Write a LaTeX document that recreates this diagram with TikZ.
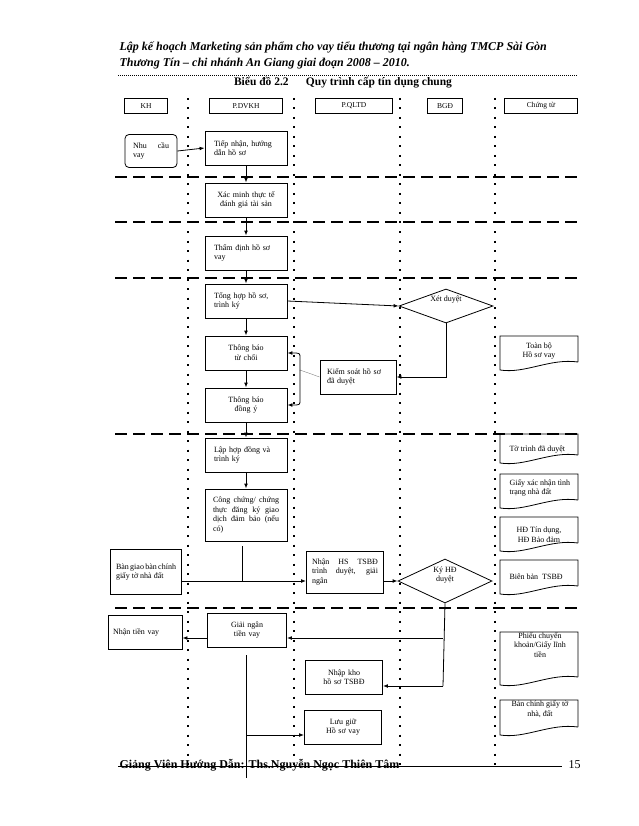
\documentclass[tikz,border=0pt]{standalone}
\usepackage{fontspec}
\setmainfont{Liberation Serif}
\usetikzlibrary{shapes.geometric,arrows.meta}
\begin{document}
\begin{tikzpicture}[x=1pt,y=-1pt,
  box/.style={draw,thick,minimum width=82pt,minimum height=34pt,font=\fontsize{8}{9.5}\selectfont,inner sep=2pt},
  lane/.style={draw,thin,font=\fontsize{7.5}{8}\selectfont,minimum height=15pt},
  dia/.style={draw,thick,diamond,aspect=2.7,inner sep=0pt},
  arr/.style={-{Latex[length=5pt]},thick},
  ln/.style={thick},
  sep/.style={dash pattern=on 12pt off 6pt,line width=1.3pt},
  dotl/.style={dash pattern=on 2pt off 7.5pt,line width=2pt},
  docs/.style={font=\fontsize{8}{9.5}\selectfont,align=center}]
\useasboundingbox (0,0) rectangle (638,826);
% header
\node[anchor=west,font=\bfseries\itshape\fontsize{12}{13}\selectfont] (h1) at (116,47) {Lập kế hoạch Marketing sản phẩm cho vay tiểu thương tại ngân hàng TMCP Sài Gòn};
\node[anchor=west,font=\bfseries\itshape\fontsize{12}{13}\selectfont] (h2) at (116,64) {Thương Tín – chi nhánh An Giang giai đoạn 2008 – 2010.};
\draw[dash pattern=on 1pt off 1pt,thin] (118,75) -- (578,75);
\node[font=\bfseries\fontsize{11.5}{13}\selectfont] (ttl) at (343,83) {Biểu đồ 2.2\quad\ \ Quy trình cấp tín dụng chung};
% lanes
\node[lane,minimum width=43pt] (kh) at (146,106) {KH};
\node[lane,minimum width=73pt] (dv) at (246,106) {P.DVKH};
\node[lane,minimum width=77pt] (ql) at (354,106) {P.QLTD};
\node[lane,minimum width=35pt] (bg) at (445,106) {BGĐ};
\node[lane,minimum width=73pt] (ct) at (541,106) {Chứng từ};
\foreach \x in {188,294,400,495} \draw[dotl] (\x,98) -- (\x,772);
\foreach \y in {177,222,278,434,608} \draw[sep] (115,\y) -- (582,\y);
% nodes
\node[box,rounded corners=4pt,minimum width=52pt,minimum height=33pt,text width=36pt,align=justify] (nhu) at (151,151) {Nhu \hfill cầu vay};
\node[box,text width=64pt,align=left] (tn) at (246,148) {Tiếp nhận, hướng dẫn hồ sơ};
\node[box,text width=64pt,align=center] (xm) at (246,200) {Xác minh thực tế đánh giá tài sản};
\node[box,text width=64pt,align=left] (td) at (246,253) {Thẩm định hồ sơ vay};
\node[box,text width=64pt,align=left] (th) at (246,301) {Tổng hợp hồ sơ, trình ký};
\node[dia,minimum width=94pt,minimum height=34pt] (xd) at (446,306) {};
\node[font=\fontsize{8}{9}\selectfont] (xdt) at (446,300) {Xét duyệt};
\node[box,text width=64pt,align=center] (tc) at (246,353) {Thông báo\\từ chối};
\node[box,text width=64pt,align=center] (dy) at (246,405) {Thông báo\\đồng ý};
\node[box,minimum width=76pt,text width=62pt,align=left] (ks) at (358,377) {Kiểm soát hồ sơ đã duyệt};
\node[box,text width=64pt,align=left] (lh) at (246,455) {Lập hợp đồng và trình ký};
\node[box,minimum height=52pt,text width=66pt,align=justify] (cc) at (246,515) {Công chứng/ chứng thực đăng ký giao dịch đảm bảo (nếu có)};
\node[box,minimum width=71pt,minimum height=45pt,text width=60pt,align=justify] (bgiao) at (146,572) {Bàn giao bàn chính giấy tờ nhà đất};
\node[box,minimum width=77pt,minimum height=42pt,text width=66pt,align=justify] (nhs) at (345,572) {Nhận HS TSBĐ trình duyệt, giải ngân};
\node[dia,minimum width=94pt,minimum height=44pt] (ky) at (445,581) {};
\node[font=\fontsize{8}{9}\selectfont,align=center] (kyt) at (445,575) {Ký HĐ\\duyệt};
\node[box,minimum width=79pt,text width=64pt,align=center] (gn) at (247,630) {Giải ngân\\tiền vay};
\node[box,minimum width=74pt,text width=64pt,align=left] (ntv) at (145,632) {Nhận tiền vay};
\node[box,minimum width=77pt,text width=66pt,align=center] (nk) at (344,677) {Nhập kho\\hồ sơ TSBĐ};
\node[box,minimum width=77pt,text width=66pt,align=center] (lg) at (343,727) {Lưu giữ\\Hồ sơ vay};
% documents
\foreach \n/\ya/\yb in {d1/336/370,d2/434/463,d3/474/508,d4/517/551,d5/560/594,d6/632/685,d7/700/735}
  \draw[thick] (578,\yb-8) -- (578,\ya) -- (500,\ya) -- (500,\yb) .. controls (525,\yb+4) and (550,\yb-12) .. (578,\yb-8);
\node[docs] (t1) at (539,351) {Toàn bộ\\Hồ sơ vay};
\node[docs,anchor=west] (t2) at (506,450) {Tờ trình đã duyệt};
\node[docs,anchor=west,align=left] (t3) at (506,488) {Giấy xác nhận tình\\trạng nhà đất};
\node[docs] (t4) at (539,535) {HĐ Tín dụng,\\HĐ Bảo đảm};
\node[docs,anchor=west] (t5) at (506,577) {Biên bản\ \ TSBĐ};
\node[docs] (t6) at (540,645) {Phiếu chuyển\\khoản/Giấy lĩnh\\tiền};
\node[docs] (t7) at (540,709) {Bản chính giấy tờ\\nhà, đất};
% connectors
\draw[arr] (nhu.east) -- (tn.west);
\draw[arr] (tn) -- (xm);
\draw[arr] (xm) -- (td);
\draw[arr] (td) -- (th);
\draw[arr] (th) -- (tc);
\draw[arr] (tc) -- (dy);
\draw[arr] (dy) -- (lh);
\draw[arr] (lh) -- (cc);
\draw[arr] (th.east) -- (xd.west);
\draw[arr] (xd.south) |- (ks.east);
\draw[gray] (ks.west) -- (300,370);
\draw[arr] (300,370) -- (300,358) .. controls (300,353) .. (tc.east);
\draw[arr] (300,370) -- (300,400) .. controls (300,405) .. (dy.east);
\coordinate (cj) at (242,581);
\draw[ln] (242,546) -- (cj);
\draw[arr] (bgiao.east |- cj) -- (nhs.west |- cj);
\draw[arr] (nhs.east |- ky) -- (ky.west);
\coordinate (kb) at (443,686);
\draw[ln] (ky.south) -- (kb);
\draw[arr] (443,638) -- (gn.east |- 0,638);
\draw[arr] (kb) -- (nk.east |- kb);
\draw[arr] (gn.west |- 0,638) -- (ntv.east |- 0,638);
\draw[ln] (246,655) -- (246,778);
\draw[arr] (246,735) -- (lg.west |- 0,735);
% footer
\draw[thin] (118,766) -- (562,766);
\node[anchor=west,font=\bfseries\fontsize{12}{13}\selectfont] (ft) at (116,765) {Giảng Viên Hướng Dẫn: Ths.Nguyễn Ngọc Thiên Tâm};
\node[anchor=west,font=\fontsize{12}{13}\selectfont] (pg) at (565,765) {15};
\end{tikzpicture}
\end{document}
